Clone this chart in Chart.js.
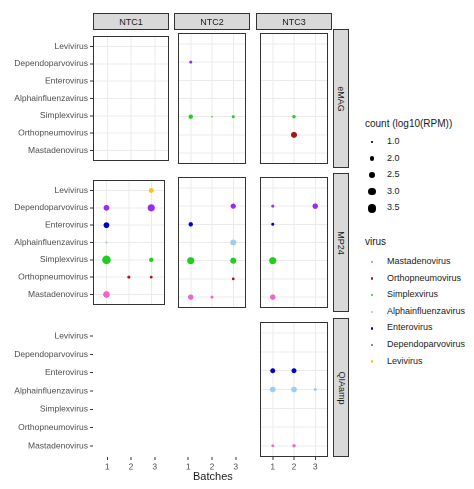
<!DOCTYPE html>
<html>
<head>
<meta charset="utf-8">
<script src="https://cdn.jsdelivr.net/npm/chart.js@4.4.0/dist/chart.umd.min.js"></script>
<style>
  body { margin: 0; background: #fff; font-family: "Liberation Sans", Arial, sans-serif; }
  #wrap { position: relative; width: 474px; height: 489px; }
  canvas, .strip, .lbl { position: absolute; }
  .strip { background: #d9d9d9; border: 1px solid #333; box-sizing: border-box; font-size: 9px; color: #1a1a1a;
           display: flex; align-items: center; justify-content: center; }
  .vert span { transform: rotate(90deg); white-space: nowrap; }
  .lbl { font-size: 9px; color: #1a1a1a; white-space: nowrap; }
  .dot { position: absolute; border-radius: 50%; }
</style>
</head>
<body>
<div id="wrap"></div>
<script>
// categories (bottom to top = 1..7)
var viruses = ["Mastadenovirus", "Orthopneumovirus", "Simplexvirus", "Alphainfluenzavirus",
               "Enterovirus", "Dependoparvovirus", "Levivirus"];
var virusColors = ["#f065c8", "#a01818", "#22cc22", "#9dcdf0", "#0000cc", "#9a2cf0", "#ffc125"];
var legendOrder = [0, 1, 2, 3, 4, 5, 6];
var batchTicks = [1, 2, 3];
var sizeLegend = [1.0, 2.0, 2.5, 3.0, 3.5];
var methods = ["eMAG", "MP24", "QIAamp"];
var controls = ["NTC1", "NTC2", "NTC3"];

// points: [batch, virus, log10 RPM]
var eMAG_NTC1 = [];
var eMAG_NTC2 = [[1, "Dependoparvovirus", 1.5], [1, "Simplexvirus", 2.0], [2, "Simplexvirus", 1.0], [3, "Simplexvirus", 1.5]];
var eMAG_NTC3 = [[2, "Simplexvirus", 1.6], [2, "Orthopneumovirus", 2.6]];
var MP24_NTC1 = [[3, "Levivirus", 2.2], [1, "Dependoparvovirus", 2.5], [3, "Dependoparvovirus", 3.0],
                 [1, "Enterovirus", 2.5], [1, "Alphainfluenzavirus", 1.2], [1, "Simplexvirus", 3.5],
                 [3, "Simplexvirus", 2.0], [2, "Orthopneumovirus", 1.5], [3, "Orthopneumovirus", 1.4],
                 [1, "Mastadenovirus", 2.8]];
var MP24_NTC2 = [[3, "Dependoparvovirus", 2.3], [1, "Enterovirus", 2.0], [3, "Alphainfluenzavirus", 2.6],
                 [1, "Simplexvirus", 3.0], [3, "Simplexvirus", 2.6], [3, "Orthopneumovirus", 1.4],
                 [1, "Mastadenovirus", 2.4], [2, "Mastadenovirus", 1.5]];
var MP24_NTC3 = [[1, "Dependoparvovirus", 1.5], [3, "Dependoparvovirus", 2.4], [1, "Enterovirus", 1.5],
                 [1, "Simplexvirus", 3.0], [1, "Mastadenovirus", 2.4]];
var QIAamp_NTC3 = [[1, "Enterovirus", 2.2], [2, "Enterovirus", 2.2], [1, "Alphainfluenzavirus", 2.5],
                   [2, "Alphainfluenzavirus", 2.5], [3, "Alphainfluenzavirus", 1.5],
                   [1, "Mastadenovirus", 1.4], [2, "Mastadenovirus", 1.6]];

function radius(v) { return 0.8 + (v - 1) * 1.4; }

var wrap = document.getElementById('wrap');
var colX = [93, 174, 256], colW = 76;
var rowY = [29, 173, 318], rowH = 139;
var yAxisW = 93, xAxisH = 20;

var framePlugin = {
  id: 'frame',
  afterDraw: function (chart) {
    if (!chart.options.plugins.frame.show) return;
    var a = chart.chartArea, c = chart.ctx;
    c.save(); c.strokeStyle = '#333'; c.lineWidth = 1;
    c.strokeRect(Math.round(a.left) + 0.5, Math.round(a.top) + 0.5, Math.round(a.right - a.left) - 1, Math.round(a.bottom - a.top) - 1);
    c.restore();
  }
};

function panel(col, row, pts, opt) {
  var left = colX[col] - (opt.yAxis ? yAxisW : 0);
  var w = colW + (opt.yAxis ? yAxisW : 0);
  var h = rowH + (opt.xAxis ? xAxisH : 0);
  var cv = document.createElement('canvas');
  cv.style.left = left + 'px'; cv.style.top = rowY[row] + 'px';
  cv.style.width = w + 'px'; cv.style.height = h + 'px';
  cv.width = w; cv.height = h;
  wrap.appendChild(cv);
  var gridCol = opt.empty ? 'rgba(0,0,0,0)' : '#ebebeb';
  var tickFont = { family: '"Liberation Sans", Arial, sans-serif', size: 8.5 };
  new Chart(cv.getContext('2d'), {
    type: 'bubble',
    data: {
      datasets: [{
        data: pts.map(function (p) { return { x: p[0], y: viruses.indexOf(p[1]) + 1, r: radius(p[2]) }; }),
        backgroundColor: pts.map(function (p) { return virusColors[viruses.indexOf(p[1])]; }),
        borderWidth: 0
      }]
    },
    options: {
      responsive: false, animation: false, devicePixelRatio: 2,
      layout: { padding: 0 },
      plugins: { legend: { display: false }, tooltip: { enabled: false }, frame: { show: !opt.empty } },
      scales: {
        x: {
          type: 'linear', min: 0.4, max: 3.6, display: true,
          afterBuildTicks: function (s) { s.ticks = batchTicks.map(function (v) { return { value: v }; }); },
          afterFit: function (s) { s.height = opt.xAxis ? xAxisH : 0; },
          grid: { color: gridCol, tickColor: '#333', tickLength: opt.xAxis ? 3 : 0, drawTicks: !!opt.xAxis },
          border: { display: false },
          ticks: { display: !!opt.xAxis, color: '#4d4d4d', font: tickFont, padding: 2, maxRotation: 0 }
        },
        y: {
          type: 'linear', min: 0.4, max: 7.6, display: true,
          afterBuildTicks: function (s) { s.ticks = viruses.map(function (v, i) { return { value: i + 1 }; }); },
          afterFit: function (s) { s.width = opt.yAxis ? yAxisW : 0; },
          grid: { color: gridCol, tickColor: '#333', tickLength: opt.yAxis ? 3 : 0, drawTicks: !!opt.yAxis },
          border: { display: false },
          ticks: { display: !!opt.yAxis, color: '#4d4d4d', font: tickFont, padding: 2,
                   callback: function (v) { return viruses[v - 1]; } }
        }
      }
    },
    plugins: [framePlugin]
  });
}

panel(0, 0, eMAG_NTC1, { yAxis: true });
panel(1, 0, eMAG_NTC2, {});
panel(2, 0, eMAG_NTC3, {});
panel(0, 1, MP24_NTC1, { yAxis: true });
panel(1, 1, MP24_NTC2, {});
panel(2, 1, MP24_NTC3, {});
panel(0, 2, [], { yAxis: true, xAxis: true, empty: true });
panel(1, 2, [], { xAxis: true, empty: true });
panel(2, 2, QIAamp_NTC3, { xAxis: true });

function div(cls, l, t, w, h, html) {
  var d = document.createElement('div');
  d.className = cls; d.style.left = l + 'px'; d.style.top = t + 'px';
  if (w) d.style.width = w + 'px';
  if (h) d.style.height = h + 'px';
  d.innerHTML = html; wrap.appendChild(d); return d;
}
controls.forEach(function (c, i) { div('strip', colX[i], 13, colW, 17, c); });
methods.forEach(function (m, i) { div('strip vert', 333, rowY[i], 16, rowH, '<span>' + m + '</span>'); });
div('lbl', 193, 470, 0, 0, 'Batches').style.fontSize = '11px';

// legends
var t = div('lbl', 365, 118, 0, 0, 'count (log10(RPM))'); t.style.fontSize = '10px';
sizeLegend.forEach(function (v, i) {
  var cy = 142 + i * 16.6, r = radius(v);
  var d = div('dot', 372 - r, cy - r, 2 * r, 2 * r, ''); d.style.background = '#000';
  div('lbl', 387, cy - 6, 0, 0, v.toFixed(1)).style.fontSize = '9px';
});
var t2 = div('lbl', 365, 236, 0, 0, 'virus'); t2.style.fontSize = '10px';
legendOrder.forEach(function (k, i) {
  var cy = 262 + i * 16.6, r = 1.3;
  var d = div('dot', 372 - r, cy - r, 2 * r, 2 * r, ''); d.style.background = virusColors[k];
  div('lbl', 387, cy - 6, 0, 0, viruses[k]).style.fontSize = '9px';
});
</script>
</body>
</html>
